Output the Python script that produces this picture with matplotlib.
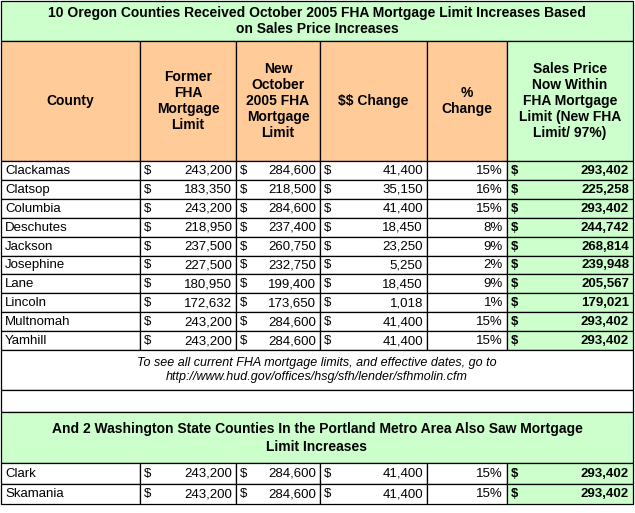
import matplotlib
matplotlib.use("Agg")
import matplotlib.pyplot as plt
from matplotlib.patches import Rectangle

title1 = "10 Oregon Counties Received October 2005 FHA Mortgage Limit Increases Based\non Sales Price Increases"
headers = ["County", "Former\nFHA\nMortgage\nLimit", "New\nOctober\n2005 FHA\nMortgage\nLimit", "$$ Change", "%\nChange",
           "Sales Price\nNow Within\nFHA Mortgage\nLimit (New FHA\nLimit/ 97%)"]
counties = ["Clackamas", "Clatsop", "Columbia", "Deschutes", "Jackson", "Josephine", "Lane", "Lincoln", "Multnomah", "Yamhill"]
former = [243200, 183350, 243200, 218950, 237500, 227500, 180950, 172632, 243200, 243200]
new = [284600, 218500, 284600, 237400, 260750, 232750, 199400, 173650, 284600, 284600]
change = [41400, 35150, 41400, 18450, 23250, 5250, 18450, 1018, 41400, 41400]
pct = [15, 16, 15, 8, 9, 2, 9, 1, 15, 15]
sales = [293402, 225258, 293402, 244742, 268814, 239948, 205567, 179021, 293402, 293402]
note = "To see all current FHA mortgage limits, and effective dates, go to\nhttp://www.hud.gov/offices/hsg/sfh/lender/sfhmolin.cfm"
title2 = "And 2 Washington State Counties In the Portland Metro Area Also Saw Mortgage\nLimit Increases"
wa_counties = ["Clark", "Skamania"]
wa_former = [243200, 243200]
wa_new = [284600, 284600]
wa_change = [41400, 41400]
wa_pct = [15, 15]
wa_sales = [293402, 293402]

GREEN = "#CCFFCC"
ORANGE = "#FFCC99"
plt.rcParams['font.family'] = ['Liberation Sans', 'DejaVu Sans']
plt.rcParams['text.parse_math'] = False
fig = plt.figure(figsize=(6.35, 5.13), dpi=100)
ax = fig.add_axes([0, 0, 1, 1])
ax.set_xlim(0, 635); ax.set_ylim(513, 0); ax.axis('off')
xs = [1, 140, 236, 320, 427, 507, 633]
FS = 9.5
lw = 0.9

def rect(x0, y0, x1, y1, fc):
    ax.add_patch(Rectangle((x0, y0), x1 - x0, y1 - y0, facecolor=fc, edgecolor='black', lw=lw))

rect(1, 1, 633, 41, GREEN)
ax.text(317, 21, title1, ha='center', va='center', fontsize=FS + 0.5, weight='bold', linespacing=1.1)
for i, h in enumerate(headers):
    rect(xs[i], 41, xs[i + 1], 161, GREEN if i == 5 else ORANGE)
    ax.text((xs[i] + xs[i + 1]) / 2, 101, h, ha='center', va='center', fontsize=FS + 0.5, weight='bold', linespacing=1.2)

def rows(y0, rh, cs, fo, ne, ch, pc, sa):
    for r in range(len(cs)):
        ya, yb = y0 + r * rh, y0 + (r + 1) * rh
        for i in range(6):
            rect(xs[i], ya, xs[i + 1], yb, GREEN if i == 5 else 'white')
        yc = (ya + yb) / 2 + 0.5
        ax.text(xs[0] + 4, yc, cs[r], va='center', fontsize=FS)
        for i, v in zip([1, 2, 3], [fo[r], ne[r], ch[r]]):
            ax.text(xs[i] + 4, yc, "$", va='center', fontsize=FS)
            ax.text(xs[i + 1] - 4, yc, f"{v:,}", va='center', ha='right', fontsize=FS)
        ax.text(xs[5] - 4, yc, f"{pc[r]}%", va='center', ha='right', fontsize=FS)
        ax.text(xs[5] + 4, yc, "$", va='center', fontsize=FS, weight='bold')
        ax.text(xs[6] - 4, yc, f"{sa[r]:,}", va='center', ha='right', fontsize=FS, weight='bold')

rows(161, 18.9, counties, former, new, change, pct, sales)
rect(1, 350, 633, 390, 'white')
ax.text(317, 370, note, ha='center', va='center', fontsize=FS - 0.5, style='italic', linespacing=1.15)
rect(1, 390, 633, 412, 'white')
rect(1, 412, 633, 463, GREEN)
ax.text(317, 438, title2, ha='center', va='center', fontsize=FS + 0.5, weight='bold', linespacing=1.3)
rows(463, 20.5, wa_counties, wa_former, wa_new, wa_change, wa_pct, wa_sales)
fig.savefig("out.png", dpi=100, facecolor='white')
